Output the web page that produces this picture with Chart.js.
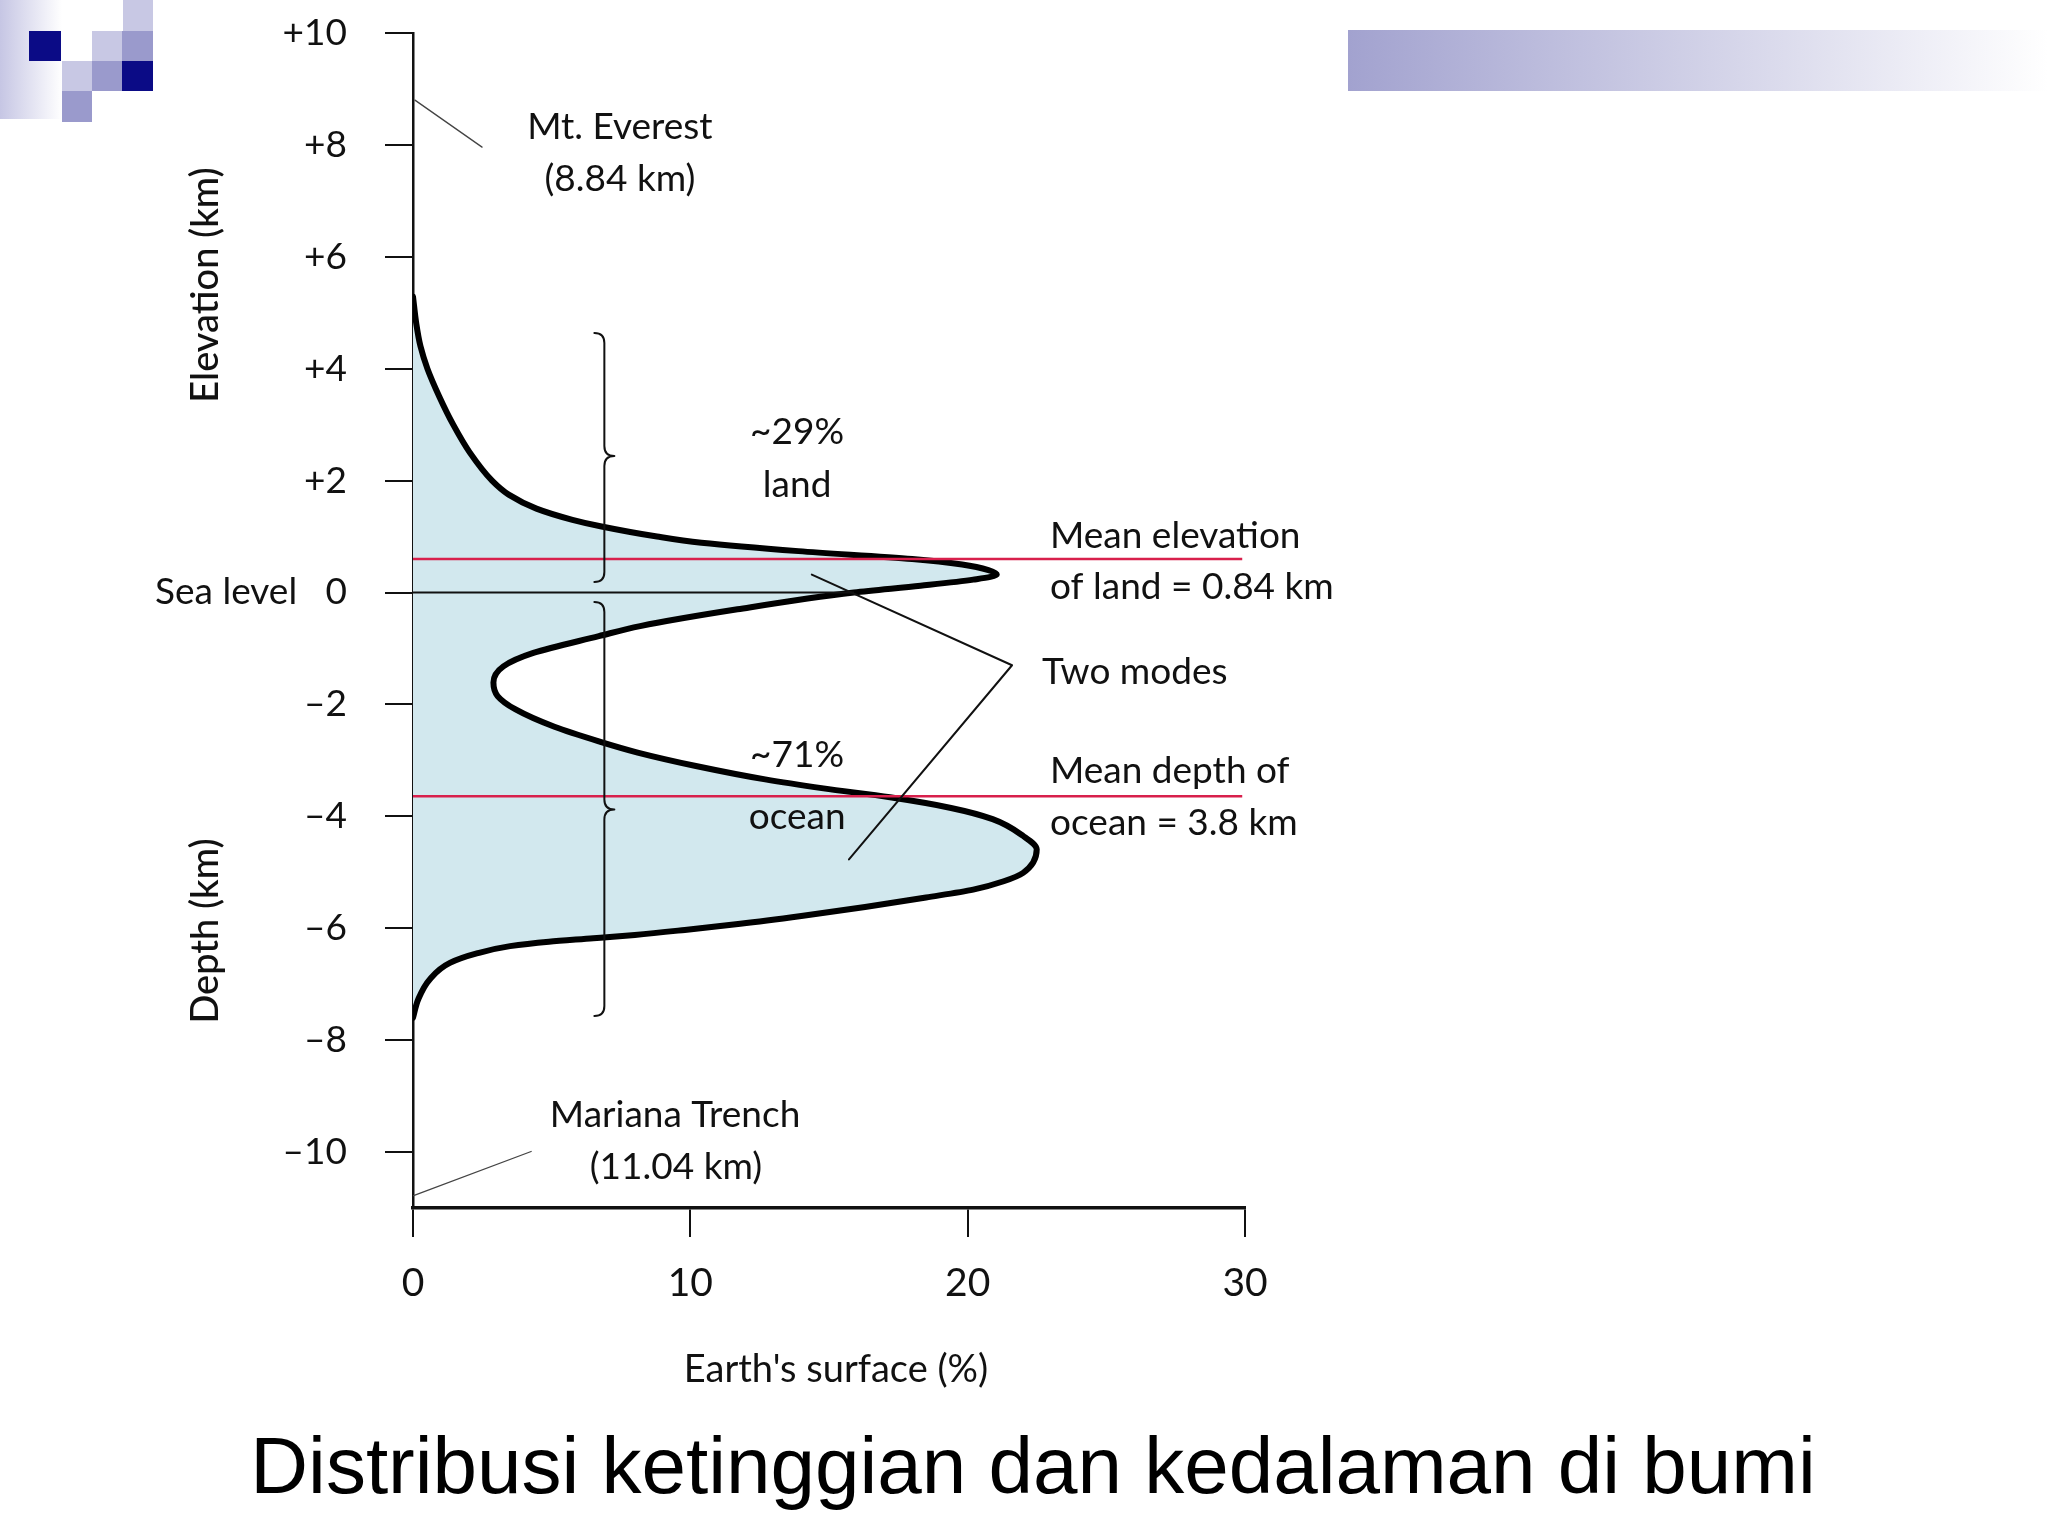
<!DOCTYPE html>
<html lang="id">
<head>
<meta charset="utf-8">
<title>Distribusi ketinggian dan kedalaman di bumi</title>
<script src="https://cdn.jsdelivr.net/npm/chart.js@4.4.1/dist/chart.umd.min.js"></script>
<style>
    html, body { margin: 0; padding: 0; background: #fff; }
    #lienzo { position: relative; width: 2048px; height: 1536px; overflow: hidden; }
    .deco { position: absolute; }
    #grafica { position: absolute; left: 0; top: 0; }
</style>
</head>
<body>
<div id="lienzo">
    <!-- plantilla de la diapositiva -->
    <div class="deco" style="left:0;top:0;width:62px;height:119px;background:linear-gradient(to right,#c6c6e4,#ffffff);"></div>
    <div class="deco" style="left:123px;top:0;width:30px;height:31px;background:#c8c8e4;"></div>
    <div class="deco" style="left:29px;top:31px;width:32px;height:30px;background:#0b0b86;"></div>
    <div class="deco" style="left:92px;top:31px;width:30px;height:30px;background:#c8c8e4;"></div>
    <div class="deco" style="left:122px;top:31px;width:31px;height:30px;background:#9a9acc;"></div>
    <div class="deco" style="left:62px;top:61px;width:30px;height:30px;background:#c8c8e4;"></div>
    <div class="deco" style="left:92px;top:61px;width:30px;height:30px;background:#9a9acc;"></div>
    <div class="deco" style="left:122px;top:61px;width:31px;height:30px;background:#0b0b86;"></div>
    <div class="deco" style="left:62px;top:91px;width:30px;height:31px;background:#9a9acc;"></div>
    <div class="deco" style="left:1348px;top:30px;width:700px;height:61px;background:linear-gradient(to right,#a2a2cf,#ffffff);"></div>
    <canvas id="grafica" width="2048" height="1536"></canvas>
</div>

<script>
// ── DATOS ─────────────────────────────────────────────────────
// curva hipsométrica: % de superficie para cada altura (km)
const superficiePct = [0, 0.12, 0.27, 0.52, 0.95, 1.45, 2.05, 2.85, 3.45, 4.45, 5.75, 6.8,
    8.8, 10.4, 13.9, 18.0, 19.8, 20.75, 21.05, 20.2, 18.3, 15.9, 11.7, 8.19, 6.7, 4.34,
    3.26, 2.90, 3.05, 3.7, 5.1, 6.7, 8.1, 10.2, 12.7, 14.8, 17.2, 19.4, 20.9, 22.0, 22.49,
    22.0, 21.3, 20.2, 18.5, 16.3, 14.0, 11.8, 9.8, 8.0, 6.5, 4.9, 3.5, 2.3, 1.33, 0.61, 0.19, 0];
const elevacionKm = [5.29, 4.8, 4.4, 4.0, 3.5, 3.0, 2.5, 2.0, 1.75, 1.5, 1.3, 1.18,
    1.0, 0.89, 0.74, 0.60, 0.50, 0.40, 0.32, 0.23, 0.12, 0.0, -0.30, -0.60, -0.78, -1.08,
    -1.32, -1.61, -1.85, -2.09, -2.4, -2.66, -2.86, -3.10, -3.34, -3.50, -3.66, -3.85, -4.05, -4.35, -4.59,
    -5.01, -5.16, -5.31, -5.45, -5.62, -5.78, -5.92, -6.03, -6.12, -6.18, -6.24, -6.32, -6.45, -6.62, -6.91, -7.27, -7.60];

const xTicks = [0, 10, 20, 30];
const yTicks = [-10, -8, -6, -4, -2, 0, 2, 4, 6, 8, 10];
const yTickLabels = ['\u201310', '\u20138', '\u20136', '\u20134', '\u20132', 'Sea level   0',
    '+2', '+4', '+6', '+8', '+10'];

const mediaTierraKm = 0.60;    // línea roja superior
const mediaOceanoKm = -3.64;   // línea roja inferior
const finLineasPct  = 29.9;
const nivelMarPct   = 15.9;    // la línea del nivel del mar termina en la curva

// ── ANOTACIONES ───────────────────────────────────────────────
const FUENTE = '"Lato", "DejaVu Sans", sans-serif';

function llave(ctx, x0, top, mid, bot, r) {
    ctx.beginPath();
    ctx.moveTo(x0 - r, top);
    ctx.quadraticCurveTo(x0, top, x0, top + r);
    ctx.lineTo(x0, mid - r);
    ctx.quadraticCurveTo(x0, mid, x0 + r, mid);
    ctx.quadraticCurveTo(x0, mid, x0, mid + r);
    ctx.lineTo(x0, bot - r);
    ctx.quadraticCurveTo(x0, bot, x0 - r, bot);
    ctx.stroke();
}

const anotaciones = {
    id: 'anotaciones',
    afterDatasetsDraw(chart) {
        const { ctx, scales: { x, y } } = chart;
        const px = v => x.getPixelForValue(v);
        const py = v => y.getPixelForValue(v);
        ctx.save();
        ctx.lineCap = 'round';
        ctx.lineJoin = 'round';

        // llaves 29% / 71%
        ctx.strokeStyle = '#111';
        ctx.lineWidth = 2;
        llave(ctx, px(6.9), py(4.64), py(2.44), py(0.19), 10);
        llave(ctx, px(6.9), py(-0.17), py(-3.88), py(-7.57), 10);

        // Two modes
        ctx.beginPath();
        ctx.moveTo(px(14.38), py(0.32));
        ctx.lineTo(px(21.6), py(-1.30));
        ctx.lineTo(px(15.72), py(-4.77));
        ctx.stroke();

        // Everest y Mariana
        ctx.strokeStyle = '#444';
        ctx.lineWidth = 1.3;
        ctx.beginPath();
        ctx.moveTo(px(0.07), py(8.80));
        ctx.lineTo(px(2.49), py(7.96));
        ctx.moveTo(px(0.02), py(-10.78));
        ctx.lineTo(px(4.26), py(-9.99));
        ctx.stroke();
        ctx.restore();
    },
    afterDraw(chart) {
        const { ctx, scales: { x, y } } = chart;
        const px = v => x.getPixelForValue(v);
        const py = v => y.getPixelForValue(v);
        ctx.save();
        ctx.fillStyle = '#111';
        ctx.textBaseline = 'alphabetic';
        ctx.font = '37px ' + FUENTE;

        ctx.textAlign = 'center';
        [
            ['Mt. Everest', 7.46, 8.11], ['(8.84 km)', 7.46, 7.17],
            ['~29%', 13.85, 2.66], ['land', 13.85, 1.715],
            ['~71%', 13.85, -3.11], ['ocean', 13.85, -4.23],
            ['Mariana Trench', 9.45, -9.55], ['(11.04 km)', 9.48, -10.49]
        ].forEach(([t, vx, vy]) => ctx.fillText(t, px(vx), py(vy)));

        ctx.textAlign = 'left';
        [
            ['Mean elevation', 22.97, 0.80], ['of land = 0.84 km', 22.97, -0.11],
            ['Two modes', 22.68, -1.63],
            ['Mean depth of', 22.97, -3.41], ['ocean = 3.8 km', 22.97, -4.34]
        ].forEach(([t, vx, vy]) => ctx.fillText(t, px(vx), py(vy)));

        // títulos de ejes
        ctx.font = '38px ' + FUENTE;
        ctx.textAlign = 'center';
        ctx.fillText("Earth's surface (%)", 836, 1382);
        ctx.font = '500 38px ' + FUENTE;
        ctx.textBaseline = 'middle';
        [['Elevation (km)', 285], ['Depth (km)', 931]].forEach(([t, cy]) => {
            ctx.save();
            ctx.translate(206, cy);
            ctx.rotate(-Math.PI / 2);
            ctx.fillText(t, 0, 0);
            ctx.restore();
        });

        // título de la diapositiva
        ctx.fillStyle = '#000';
        ctx.textBaseline = 'alphabetic';
        ctx.font = '80px "Liberation Sans", Arial, sans-serif';
        ctx.fillText('Distribusi ketinggian dan kedalaman di bumi', 1033, 1493);
        ctx.restore();
    }
};

// ── GRÁFICA ───────────────────────────────────────────────────
const lineaRoja = (km) => ({
    data: [{ x: 0, y: km }, { x: finLineasPct, y: km }],
    showLine: true,
    borderColor: '#d8204c',
    borderWidth: 2.5,
    pointRadius: 0,
    fill: false,
    order: 0
});

new Chart(document.getElementById('grafica'), {
    type: 'scatter',
    data: {
        datasets: [
            lineaRoja(mediaTierraKm),
            lineaRoja(mediaOceanoKm),
            {
                data: [{ x: 0, y: 0 }, { x: nivelMarPct, y: 0 }],
                showLine: true,
                borderColor: '#111',
                borderWidth: 2,
                pointRadius: 0,
                fill: false,
                order: 1
            },
            {
                data: superficiePct.map((v, i) => ({ x: v, y: elevacionKm[i] })),
                showLine: true,
                borderColor: '#000',
                borderWidth: 6,
                borderCapStyle: 'round',
                borderJoinStyle: 'round',
                backgroundColor: '#d2e8ee',
                fill: 'origin',
                cubicInterpolationMode: 'monotone',
                pointRadius: 0,
                order: 2
            }
        ]
    },
    options: {
        indexAxis: 'y',
        responsive: false,
        animation: false,
        events: [],
        layout: { padding: { left: 0, top: 33, right: 803, bottom: 128 } },
        plugins: {
            legend: { display: false },
            tooltip: { enabled: false },
            title: { display: false }
        },
        scales: {
            x: {
                type: 'linear',
                position: 'bottom',
                min: 0,
                max: 30,
                afterBuildTicks: s => { s.ticks = xTicks.map(v => ({ value: v })); },
                afterFit: s => { s.height = 200; s.paddingLeft = 0; s.paddingRight = 0; },
                grid: { drawOnChartArea: false, drawTicks: true, tickLength: 29, color: '#111', lineWidth: 2 },
                border: { color: '#111', width: 3.5 },
                ticks: { color: '#111', padding: 23, font: { family: 'Lato', size: 39 }, maxRotation: 0 }
            },
            y: {
                type: 'linear',
                position: 'left',
                min: -11,
                max: 10,
                afterBuildTicks: s => { s.ticks = yTicks.map(v => ({ value: v })); },
                afterFit: s => { s.width = 413; s.paddingTop = 0; s.paddingBottom = 0; },
                grid: { drawOnChartArea: false, drawTicks: true, tickLength: 28, color: '#111', lineWidth: 2 },
                border: { color: '#111', width: 2.5 },
                ticks: {
                    color: '#111',
                    padding: 38,
                    font: { family: 'Lato', size: 37 },
                    callback: (v, i) => yTickLabels[i]
                }
            }
        }
    },
    plugins: [anotaciones]
});
</script>
</body>
</html>
